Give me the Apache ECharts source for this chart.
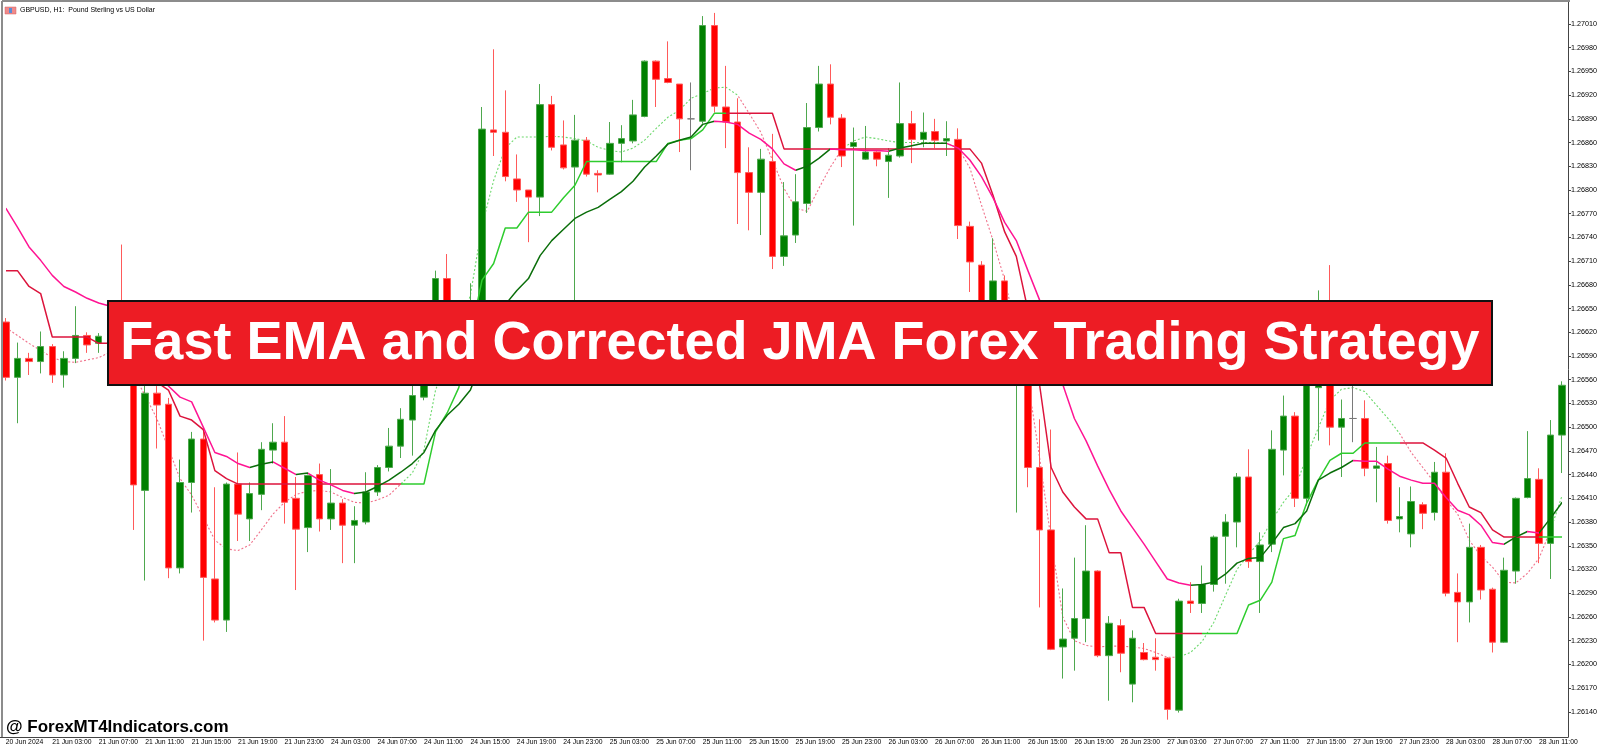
<!DOCTYPE html>
<html><head><meta charset="utf-8">
<script src="https://cdn.jsdelivr.net/npm/echarts@6/dist/echarts.min.js"></script>
<style>html,body{margin:0;padding:0;background:#fff}#c{width:1600px;height:746px}</style>
</head><body><div id="c"></div>
<script>
// hourly sessions shown on the chart: [day, first hour, last hour]
const sessions = [['20 Jun',23,23],['21 Jun',0,23],['24 Jun',0,23],['25 Jun',0,23],['26 Jun',0,23],['27 Jun',0,23],['28 Jun',0,13]];

const xTickLabels = ['20 Jun 2024','21 Jun 03:00','21 Jun 07:00','21 Jun 11:00','21 Jun 15:00','21 Jun 19:00','21 Jun 23:00',
'24 Jun 03:00','24 Jun 07:00','24 Jun 11:00','24 Jun 15:00','24 Jun 19:00','24 Jun 23:00',
'25 Jun 03:00','25 Jun 07:00','25 Jun 11:00','25 Jun 15:00','25 Jun 19:00','25 Jun 23:00',
'26 Jun 03:00','26 Jun 07:00','26 Jun 11:00','26 Jun 15:00','26 Jun 19:00','26 Jun 23:00',
'27 Jun 03:00','27 Jun 07:00','27 Jun 11:00','27 Jun 15:00','27 Jun 19:00','27 Jun 23:00',
'28 Jun 03:00','28 Jun 07:00','28 Jun 11:00'];

const yTickValues = [1.26140,1.26170,1.26200,1.26230,1.26260,1.26290,1.26320,1.26350,1.26380,1.26410,
1.26440,1.26470,1.26500,1.26530,1.26560,1.26590,1.26620,1.26650,1.26680,1.26710,
1.26740,1.26770,1.26800,1.26830,1.26860,1.26890,1.26920,1.26950,1.26980,1.27010];

const opens = [1.26633,1.26563,1.26587,1.26583,1.26602,1.26566,1.26587,1.26616,1.26606,1.26614,
1.26621,1.26575,1.26420,1.26543,1.26529,1.26322,1.26430,1.26485,1.26308,1.26256,
1.26428,1.26384,1.26415,1.26471,1.26481,1.26410,1.26373,1.26440,1.26384,1.26404,
1.26376,1.26380,1.26418,1.26449,1.26476,1.26509,1.26538,1.26585,1.26688,1.26638,
1.26623,1.26654,1.26876,1.26873,1.26814,1.26800,1.26791,1.26908,1.26857,1.26829,
1.26863,1.26821,1.26820,1.26859,1.26862,1.26893,1.26963,1.26941,1.26934,1.26890,
1.26887,1.27008,1.26905,1.26886,1.26822,1.26797,1.26836,1.26716,1.26743,1.26783,
1.26879,1.26934,1.26891,1.26855,1.26839,1.26848,1.26836,1.26843,1.26884,1.26864,
1.26874,1.26862,1.26864,1.26754,1.26705,1.26623,1.26685,1.26597,1.26616,1.26449,
1.26370,1.26222,1.26233,1.26258,1.26318,1.26211,1.26249,1.26175,1.26215,1.26209,
1.26208,1.26142,1.26280,1.26277,1.26301,1.26362,1.26380,1.26437,1.26330,1.26352,
1.26471,1.26514,1.26410,1.26550,1.26604,1.26500,1.26511,1.26511,1.26448,1.26454,
1.26384,1.26365,1.26402,1.26392,1.26443,1.26291,1.26279,1.26348,1.26295,1.26228,
1.26318,1.26411,1.26434,1.26353,1.26490];

const closes = [1.26563,1.26587,1.26583,1.26602,1.26566,1.26587,1.26616,1.26604,1.26615,1.26621,
1.26575,1.26427,1.26543,1.26528,1.26322,1.26430,1.26485,1.26310,1.26256,1.26428,
1.26390,1.26416,1.26472,1.26481,1.26405,1.26371,1.26439,1.26384,1.26404,1.26376,
1.26382,1.26418,1.26449,1.26476,1.26510,1.26540,1.26585,1.26688,1.26638,1.26623,
1.26654,1.26877,1.26873,1.26817,1.26800,1.26791,1.26908,1.26854,1.26828,1.26863,
1.26820,1.26819,1.26859,1.26865,1.26895,1.26963,1.26940,1.26936,1.26890,1.26890,
1.27008,1.26906,1.26886,1.26822,1.26797,1.26839,1.26716,1.26742,1.26785,1.26879,
1.26934,1.26892,1.26843,1.26860,1.26848,1.26839,1.26844,1.26884,1.26864,1.26873,
1.26863,1.26865,1.26755,1.26709,1.26623,1.26685,1.26610,1.26623,1.26449,1.26370,
1.26219,1.26232,1.26258,1.26318,1.26211,1.26252,1.26214,1.26233,1.26206,1.26206,
1.26143,1.26280,1.26277,1.26301,1.26361,1.26380,1.26437,1.26330,1.26351,1.26472,
1.26514,1.26410,1.26572,1.26604,1.26500,1.26511,1.26511,1.26448,1.26451,1.26382,
1.26387,1.26406,1.26391,1.26443,1.26290,1.26279,1.26348,1.26294,1.26228,1.26319,
1.26410,1.26435,1.26353,1.26490,1.26553];

const lows = [1.26559,1.26505,1.26566,1.26568,1.26556,1.26550,1.26581,1.26594,1.26594,1.26604,
1.26569,1.26370,1.26306,1.26473,1.26309,1.26315,1.26392,1.26230,1.26253,1.26241,
1.26356,1.26356,1.26395,1.26454,1.26378,1.26294,1.26342,1.26368,1.26370,1.26328,
1.26328,1.26377,1.26413,1.26444,1.26461,1.26464,1.26534,1.26582,1.26625,1.26604,
1.26612,1.26648,1.26843,1.26811,1.26785,1.26734,1.26767,1.26850,1.26826,1.26635,
1.26817,1.26797,1.26819,1.26835,1.26859,1.26892,1.26905,1.26935,1.26848,1.26825,
1.26884,1.26898,1.26853,1.26757,1.26749,1.26743,1.26700,1.26704,1.26733,1.26771,
1.26874,1.26883,1.26829,1.26755,1.26838,1.26830,1.26790,1.26841,1.26834,1.26854,
1.26853,1.26843,1.26738,1.26671,1.26616,1.26616,1.26604,1.26392,1.26424,1.26272,
1.26218,1.26182,1.26192,1.26228,1.26209,1.26154,1.26190,1.26152,1.26205,1.26192,
1.26130,1.26139,1.26265,1.26265,1.26292,1.26302,1.26348,1.26322,1.26265,1.26342,
1.26439,1.26399,1.26401,1.26483,1.26477,1.26437,1.26481,1.26438,1.26405,1.26378,
1.26367,1.26348,1.26371,1.26382,1.26286,1.26228,1.26253,1.26282,1.26215,1.26227,
1.26302,1.26410,1.26328,1.26308,1.26442];

const highs = [1.26638,1.26607,1.26594,1.26621,1.26605,1.26596,1.26653,1.26620,1.26619,1.26648,
1.26731,1.26582,1.26553,1.26552,1.26537,1.26459,1.26494,1.26499,1.26424,1.26430,
1.26468,1.26430,1.26481,1.26505,1.26514,1.26437,1.26440,1.26454,1.26447,1.26409,
1.26400,1.26443,1.26452,1.26499,1.26524,1.26553,1.26591,1.26698,1.26719,1.26654,
1.26682,1.26905,1.26978,1.26926,1.26845,1.26800,1.26934,1.26919,1.26888,1.26895,
1.26867,1.26825,1.26886,1.26882,1.26914,1.26964,1.26964,1.26988,1.26934,1.26936,
1.27020,1.27024,1.26957,1.26916,1.26854,1.26852,1.26871,1.26810,1.26820,1.26910,
1.26957,1.26959,1.26896,1.26879,1.26881,1.26849,1.26853,1.26936,1.26900,1.26898,
1.26890,1.26887,1.26878,1.26760,1.26710,1.26739,1.26692,1.26636,1.26623,1.26510,
1.26497,1.26296,1.26335,1.26376,1.26319,1.26261,1.26257,1.26243,1.26227,1.26233,
1.26209,1.26283,1.26304,1.26325,1.26363,1.26390,1.26442,1.26472,1.26367,1.26496,
1.26540,1.26519,1.26578,1.26673,1.26705,1.26535,1.26572,1.26534,1.26475,1.26464,
1.26424,1.26425,1.26405,1.26456,1.26467,1.26315,1.26378,1.26351,1.26297,1.26335,
1.26411,1.26495,1.26448,1.26509,1.26558];

// Corrected JMA (stepped line)
const jmaValues = [1.26698,1.26698,1.26678,1.26669,1.26614,1.26614,1.26614,1.26614,1.26606,1.26606,
1.26597,1.26585,1.26569,1.26557,1.26547,1.26514,1.26509,1.26497,1.26445,1.26435,
1.26428,1.26428,1.26428,1.26428,1.26428,1.26428,1.26428,1.26428,1.26428,1.26428,
1.26428,1.26428,1.26428,1.26428,1.26428,1.26428,1.26428,1.26494,1.26518,1.26550,
1.26616,1.26686,1.26707,1.26752,1.26752,1.26772,1.26772,1.26772,1.26790,1.26806,
1.26836,1.26836,1.26836,1.26836,1.26836,1.26836,1.26836,1.26859,1.26863,1.26865,
1.26876,1.26897,1.26897,1.26897,1.26897,1.26897,1.26897,1.26852,1.26852,1.26852,
1.26852,1.26852,1.26852,1.26852,1.26852,1.26852,1.26852,1.26852,1.26852,1.26852,
1.26852,1.26852,1.26852,1.26852,1.26834,1.26793,1.26747,1.26716,1.26648,1.26554,
1.26449,1.26418,1.26399,1.26384,1.26384,1.26341,1.26341,1.26272,1.26272,1.26239,
1.26239,1.26239,1.26239,1.26239,1.26239,1.26239,1.26239,1.26275,1.26281,1.26304,
1.26359,1.26363,1.26404,1.26433,1.26458,1.26467,1.26467,1.26480,1.26480,1.26480,
1.26480,1.26480,1.26480,1.26471,1.26461,1.26429,1.26399,1.26392,1.26370,1.26361,
1.26361,1.26361,1.26361,1.26361,1.26361];
const jmaTrendRuns = [['d',35],['u',28],['d',41],['u',17],['d',12],['u',2]];

// Fast EMA (solid, coloured by slope)
const emaValues = [1.26777,1.26753,1.26728,1.26711,1.26692,1.26678,1.26671,1.26663,1.26657,1.26653,
1.26638,1.26616,1.26591,1.26569,1.26552,1.26538,1.26532,1.26500,1.26468,1.26463,
1.26454,1.26449,1.26453,1.26456,1.26448,1.26440,1.26442,1.26433,1.26427,1.26420,
1.26416,1.26418,1.26425,1.26433,1.26443,1.26454,1.26468,1.26496,1.26515,1.26529,
1.26547,1.26585,1.26623,1.26655,1.26673,1.26688,1.26717,1.26736,1.26750,1.26764,
1.26772,1.26778,1.26788,1.26798,1.26811,1.26829,1.26843,1.26858,1.26863,1.26867,
1.26883,1.26887,1.26886,1.26883,1.26872,1.26864,1.26852,1.26833,1.26825,1.26830,
1.26840,1.26852,1.26851,1.26851,1.26850,1.26850,1.26849,1.26853,1.26856,1.26859,
1.26859,1.26859,1.26853,1.26838,1.26817,1.26790,1.26759,1.26736,1.26698,1.26661,
1.26610,1.26554,1.26511,1.26483,1.26451,1.26421,1.26394,1.26373,1.26352,1.26330,
1.26308,1.26303,1.26300,1.26301,1.26304,1.26314,1.26328,1.26334,1.26335,1.26353,
1.26373,1.26378,1.26394,1.26433,1.26442,1.26449,1.26458,1.26457,1.26457,1.26447,
1.26438,1.26433,1.26429,1.26429,1.26411,1.26395,1.26389,1.26376,1.26354,1.26352,
1.26361,1.26368,1.26366,1.26385,1.26405];

// fast dotted line
const fastValues = [1.26626,1.26616,1.26606,1.26597,1.26588,1.26583,1.26582,1.26585,1.26588,1.26595,
1.26587,1.26567,1.26540,1.26511,1.26473,1.26435,1.26414,1.26386,1.26357,1.26346,
1.26344,1.26351,1.26370,1.26390,1.26405,1.26415,1.26419,1.26420,1.26418,1.26411,
1.26405,1.26404,1.26408,1.26414,1.26428,1.26442,1.26471,1.26547,1.26585,1.26623,
1.26667,1.26755,1.26812,1.26853,1.26867,1.26867,1.26867,1.26868,1.26867,1.26865,
1.26862,1.26854,1.26850,1.26848,1.26853,1.26863,1.26878,1.26892,1.26901,1.26916,
1.26922,1.26929,1.26930,1.26920,1.26897,1.26873,1.26838,1.26802,1.26777,1.26773,
1.26802,1.26829,1.26852,1.26862,1.26867,1.26865,1.26862,1.26860,1.26860,1.26860,
1.26860,1.26859,1.26853,1.26828,1.26781,1.26736,1.26686,1.26623,1.26559,1.26462,
1.26357,1.26260,1.26230,1.26224,1.26222,1.26223,1.26223,1.26222,1.26220,1.26215,
1.26209,1.26209,1.26215,1.26229,1.26253,1.26287,1.26320,1.26339,1.26356,1.26382,
1.26405,1.26423,1.26463,1.26499,1.26534,1.26548,1.26550,1.26545,1.26528,1.26511,
1.26492,1.26468,1.26449,1.26430,1.26408,1.26390,1.26357,1.26337,1.26323,1.26304,
1.26303,1.26315,1.26334,1.26370,1.26414];
const fastTrendRuns = [['d',35],['u',29],['d',9],['u',10],['d',19],['u',19],['d',13],['u',1]];

// ---------- build ----------
const categories = [];
sessions.forEach(([d, h0, h1]) => { for (let h = h0; h <= h1; h++) categories.push(d + ' ' + String(h).padStart(2, '0') + ':00'); });
const candles = categories.map((_, i) => [opens[i], closes[i], lows[i], highs[i]]);

function runsToTrend(runs) { const t = []; runs.forEach(([c, n]) => { for (let k = 0; k < n; k++) t.push(c); }); return t; }
function slopeTrend(v) {
  const t = ['d'];
  for (let k = 1; k < v.length; k++) t.push(v[k] > v[k-1] ? 'u' : v[k] < v[k-1] ? 'd' : t[k-1]);
  return t;
}
function piecesFrom(trend, up, dn) {
  const pieces = []; let start = 1;
  for (let k = 2; k <= trend.length; k++) {
    if (k === trend.length || trend[k] !== trend[start]) {
      const p = { lte: k - 1, color: trend[start] === 'u' ? up : dn };
      if (pieces.length === 0) p.gte = start - 1; else p.gt = start - 1;
      pieces.push(p); start = k;
    }
  }
  return pieces;
}
const jmaPieces = piecesFrom(runsToTrend(jmaTrendRuns), '#2ECC2E', '#DC143C');
const emaPieces = piecesFrom(slopeTrend(emaValues), '#0A6E0A', '#FF1493');
const fastPieces = piecesFrom(runsToTrend(fastTrendRuns), '#6CD86C', '#F0708A');

const chart = echarts.init(document.getElementById('c'), null, { renderer: 'canvas' });
const F = 'Liberation Sans, Arial, sans-serif';
chart.setOption({
  animation: false,
  backgroundColor: '#ffffff',
  grid: { left: -4, right: 30, top: 2, bottom: 9 },
  xAxis: {
    type: 'category', data: categories, boundaryGap: true,
    axisLine: { lineStyle: { color: '#444', width: 1 } },
    axisTick: { interval: 3, alignWithLabel: true, length: 4, lineStyle: { color: '#444' } },
    axisLabel: { interval: 3, align: 'left', margin: 2, fontSize: 6.8, color: '#000', fontFamily: F,
      formatter: (v, i) => xTickLabels[Math.round(i / 4)] || '' },
    splitLine: { show: false }
  },
  yAxis: {
    type: 'value', position: 'right', min: 1.261081, max: 1.270378, scale: true,
    splitLine: { show: false },
    axisLine: { show: true, lineStyle: { color: '#444', width: 1 } },
    axisTick: { show: true, length: 3, customValues: yTickValues, lineStyle: { color: '#444' } },
    axisLabel: { customValues: yTickValues, formatter: v => v.toFixed(5), fontSize: 7.2, color: '#000', margin: 3, fontFamily: F }
  },
  visualMap: [
    { type: 'piecewise', show: false, seriesIndex: 1, dimension: 0, pieces: jmaPieces },
    { type: 'piecewise', show: false, seriesIndex: 2, dimension: 0, pieces: emaPieces },
    { type: 'piecewise', show: false, seriesIndex: 3, dimension: 0, pieces: fastPieces }
  ],
  series: [
    { type: 'candlestick', data: candles, barWidth: 7,
      itemStyle: { color: '#008000', color0: '#FF0000', borderColor: '#4EA84E', borderColor0: '#FF5A5A', borderColorDoji: '#7A7A7A', borderWidth: 1 } },
    { type: 'line', data: jmaValues, showSymbol: false, symbol: 'none', lineStyle: { width: 1.5 }, z: 3 },
    { type: 'line', data: emaValues, showSymbol: false, symbol: 'none', lineStyle: { width: 1.5 }, z: 4 },
    { type: 'line', data: fastValues, showSymbol: false, symbol: 'none', lineStyle: { width: 1.1, type: [2, 2] }, z: 2 }
  ],
  graphic: [
    { type: 'line', shape: { x1: 2, y1: 1, x2: 1570, y2: 1 }, style: { stroke: '#8c8c8c', lineWidth: 2 }, z: 50 },
    { type: 'line', shape: { x1: 2, y1: 1, x2: 2, y2: 737 }, style: { stroke: '#8c8c8c', lineWidth: 2 }, z: 50 },
    { type: 'rect', shape: { x: 5, y: 7, width: 11, height: 7 }, style: { fill: '#F08A8A', stroke: '#D06060', lineWidth: 0.5 }, z: 50 },
    { type: 'rect', shape: { x: 9, y: 8, width: 3, height: 5 }, style: { fill: '#5B8DD6' }, z: 51 },
    { type: 'text', x: 20, y: 10, style: { text: 'GBPUSD, H1:  Pound Sterling vs US Dollar', fill: '#000', font: '7px ' + F, textVerticalAlign: 'middle' }, z: 50 },
    { type: 'text', x: 6, y: 727, style: { text: '@ ForexMT4Indicators.com', fill: '#000', font: 'bold 17px ' + F, textVerticalAlign: 'middle' }, z: 50 },
    { type: 'rect', shape: { x: 108, y: 301, width: 1384, height: 84 }, style: { fill: '#ED1C24', stroke: '#111', lineWidth: 2 }, z: 100 },
    { type: 'text', x: 800, y: 344, style: { text: 'Fast EMA and Corrected JMA Forex Trading Strategy', fill: '#fff', font: 'bold 54px ' + F, textAlign: 'center', textVerticalAlign: 'middle' }, z: 101 }
  ]
});
</script></body></html>
